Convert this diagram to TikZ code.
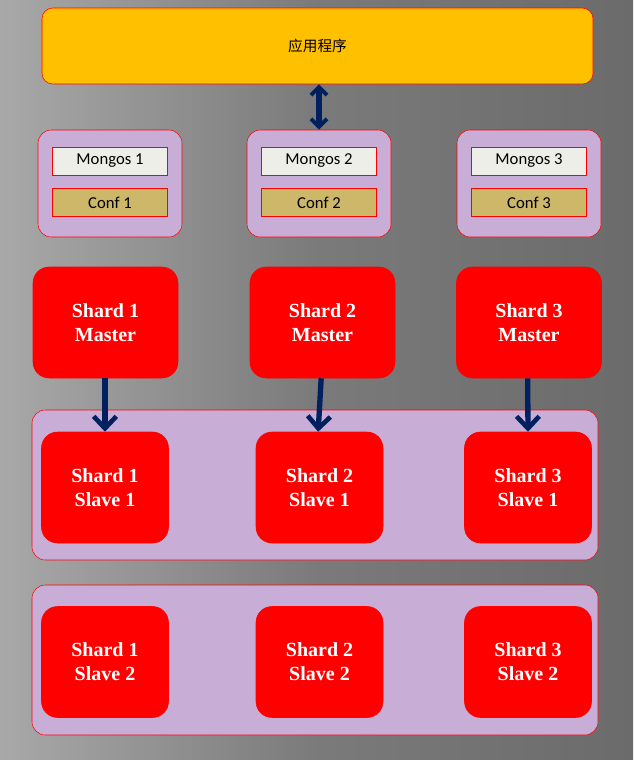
\documentclass[tikz,border=0pt]{standalone}
\usepackage{fontspec}
\setmainfont{Liberation Serif}
\newfontfamily\cjk{Noto Sans CJK SC}
\newfontfamily\carl{Carlito}
\usetikzlibrary{arrows.meta}
\definecolor{lav}{HTML}{C8AED6}
\definecolor{navy}{HTML}{002060}
\begin{document}
\begin{tikzpicture}[x=0.75pt,y=-0.75pt,
  grp/.style={draw=red,fill=lav,rounded corners=10pt},
  small/.style={draw=red,font=\carl\fontsize{12.5}{14}\selectfont},
  shard/.style={fill=red,draw=red,rounded corners=12pt,text=white,align=center,font=\fontsize{15}{18}\selectfont\bfseries},
  arr/.style={navy,line width=4pt,-{Straight Barb[length=9pt,width=17pt,line width=3.5pt]}}]
\useasboundingbox (0,0) rectangle (633,760);
\shade[left color=black!34,right color=black!58,middle color=black!52] (0,0) rectangle (633,760);
\node[draw=red,fill={rgb,255:red,255;green,192;blue,0},rounded corners=8pt,minimum width=551*0.75pt,minimum height=76*0.75pt,font=\cjk\fontsize{11}{13}\selectfont] (app) at (317.5,46) {应用程序};
\foreach \n/\x in {1/110,2/319,3/529}{
  \node[grp,minimum width=144*0.75pt,minimum height=107*0.75pt] (g\n) at (\x,183.5) {};
  \node[small,fill={rgb,255:red,238;green,238;blue,232},minimum width=115*0.75pt,minimum height=28*0.75pt] (m\n) at (\x,161) {Mongos \n};
  \node[small,fill={rgb,255:red,205;green,184;blue,106},minimum width=115*0.75pt,minimum height=28*0.75pt] (c\n) at (\x,202.5) {Conf \n};
}
\node[grp,minimum width=566*0.75pt,minimum height=150*0.75pt] (row1) at (315,485) {};
\node[grp,minimum width=566*0.75pt,minimum height=150*0.75pt] (row2) at (315,660) {};
\foreach \n/\x/\s in {1/105.5/105,2/322.5/319.5,3/529/528}{
  \node[shard,minimum width=145*0.75pt,minimum height=111*0.75pt] (sm\n) at (\x,322.5) {Shard \n\\Master};
  \node[shard,minimum width=127*0.75pt,minimum height=111*0.75pt] (s1\n) at (\s,487.5) {Shard \n\\Slave 1};
  \node[shard,minimum width=127*0.75pt,minimum height=111*0.75pt] (s2\n) at (\s,662) {Shard \n\\Slave 2};
}
\draw[arr] (sm1.south -| s11.north) -- (s11.north);
\draw[arr] ([xshift=-1pt]sm2.south) -- ([xshift=-1pt]s12.north);
\draw[arr] ([xshift=-1pt]sm3.south) -- (s13.north);
\draw[navy,line width=4pt,{Straight Barb[length=6pt,width=12pt,line width=3pt]}-{Straight Barb[length=6pt,width=12pt,line width=3pt]}] (app.south -| g2.north) -- (g2.north);
\end{tikzpicture}
\end{document}
